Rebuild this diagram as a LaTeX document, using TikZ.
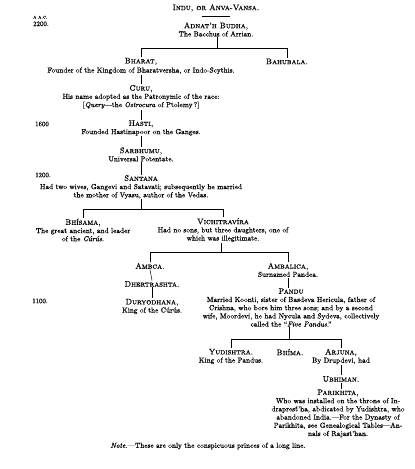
\documentclass[tikz,border=0pt]{standalone}
\usepackage{fontspec}
\setmainfont{lmroman10}[Extension=.otf, UprightFont=*-regular, ItalicFont=*-italic, SmallCapsFont=lmromancaps10-regular, FakeBold=0.6]
\usetikzlibrary{calc}
\newcommand{\nm}[1]{{\fontsize{8}{9}\selectfont\textsc{#1}}}
\begin{document}
\begin{tikzpicture}[x=1pt,y=-1pt,
  person/.style={align=center,inner sep=0.5pt,font=\fontsize{7.3}{8.2}\selectfont},
  datelbl/.style={align=left,inner sep=0pt,font=\fontsize{6.8}{7.5}\selectfont},
  link/.style={line width=0.5pt}]
\useasboundingbox (0,0) rectangle (415,469);
% nodes
\node[person] (title) at (216,8) {\nm{Indu, or Anva-Vansa.}};
\node[datelbl] (d2200) at (41,21) {{\fontsize{5}{6}\selectfont\textsc{a a.c.}}\\2200.};
\node[person] (budha) at (216,29.5) {\nm{Adnat'h Budha,}\\The Bacchus of Arrian.};
\node[person] (bharat) at (141,66) {\nm{Bharat,}\\[1pt]Founder of the Kingdom of Bharatversha, or Indo-Scythis.};
\node[person] (bahubala) at (287,61.5) {\nm{Bahubala.}};
\node[person] (curu) at (141,97) {\nm{Curu,}\\His name adopted as the Patronymic of the race:\\{}[\textit{Query}---the \textit{Ostrocura} of Ptolemy\,?]};
\node[datelbl] (d1600) at (42,124) {1600};
\node[person] (hasti) at (141,128) {\nm{Hasti,}\\Founded Hastinapoor on the Ganges.};
\node[person] (sarbhumu) at (141,154.5) {\nm{Sarbhumu,}\\Universal Potentate.};
\node[datelbl] (d1200) at (43,175) {1200.};
\node[person] (santana) at (141,187) {\nm{Santana}\\Had two wives, Gangevi and Satavati; subsequently he married\\the mother of Vyasu, author of the Vedas.};
\node[person] (bhisama) at (83,230) {\nm{Bh\'isama,}\\The great ancient, and leader\\of the \textit{C\'ur\'us}.};
\node[person] (vichitra) at (223,230) {\nm{Vichitrav\'ira}\\Had no sons, but three daughters, one of\\which was illegitimate.};
\node[person] (ambca) at (150,266) {\nm{Ambca.}};
\node[person] (ambalica) at (288,270) {\nm{Ambalica,}\\Surnamed Pandea.};
\node[person] (dhertrashta) at (152,284) {\nm{Dhertrashta.}};
\node[person] (pandu) at (291,307.5) {\nm{Pandu}\\Married Koonti, sister of Basdeva Hericula, father of\\Crishna, who bore him three sons; and by a second\\wife, Moordevi, he had Nycula and Sydeva, collectively\\called the ``\textit{Five Pandus}.''};
\node[datelbl] (d1100) at (40,301) {1100.};
\node[person] (duryodhana) at (152,306.5) {\nm{Duryodhana,}\\King of the C\'ur\'us.};
\node[person] (yudishtra) at (231,356.5) {\nm{Yudishtra.}\\King of the Pandus.};
\node[person] (bhima) at (290,352) {\nm{Bh\'ima.}};
\node[person] (arjuna) at (341,356.5) {\nm{Arjuna,}\\By Drupdevi, had};
\node[person] (ubhiman) at (341,379) {\nm{Ubhiman.}};
\node[person] (parikhita) at (338,413.5) {\nm{Parikhita,}\\Who was installed on the throne of In-\\drapresť'ha, abdicated by Yudishtra, who\\abandoned India.---For the Dynasty of\\Parikhita, see Genealogical Tables---An-\\nals of Rajast'han.};
\node[person] (note) at (208,446) {\textit{Note.}---These are only the conspicuous princes of a long line.};
% title rule
\draw[link] ($(title.south)+(-14,4)$) -- ++(28,0);
% junctions
\coordinate (j1) at (217,48);
\coordinate (j2) at (141,209);
\coordinate (j3) at (221,252);
\coordinate (j4) at (289,339);
\draw[link] (budha.south -| j1) -- (j1);
\draw[link] (bharat.north) -- (bharat.north |- j1) -- (bahubala.north |- j1) -- (bahubala.north);
\draw[link] (bharat.south) -- (curu.north);
\draw[link] (curu.south) -- (hasti.north);
\draw[link] (hasti.south) -- (sarbhumu.north);
\draw[link] (sarbhumu.south) -- (santana.north);
\draw[link] (santana.south) -- (j2);
\draw[link] (bhisama.north) -- (bhisama.north |- j2) -- (vichitra.north |- j2) -- (vichitra.north);
\draw[link] (vichitra.south -| j3) -- (j3);
\draw[link] (ambca.north) -- (ambca.north |- j3) -- (ambalica.north |- j3) -- (ambalica.north);
\draw[link] (ambca.south) -- (dhertrashta.north);
\draw[link] (dhertrashta.south) -- (duryodhana.north);
\draw[link] (ambalica.south) -- (pandu.north -| ambalica.south);
\draw[link] (pandu.south -| j4) -- (j4);
\draw[link] (yudishtra.north) -- (yudishtra.north |- j4) -- (arjuna.north |- j4) -- (arjuna.north);
\draw[link] (arjuna.south) -- (ubhiman.north);
\draw[link] (ubhiman.south) -- (parikhita.north -| ubhiman.south);
\end{tikzpicture}
\end{document}
